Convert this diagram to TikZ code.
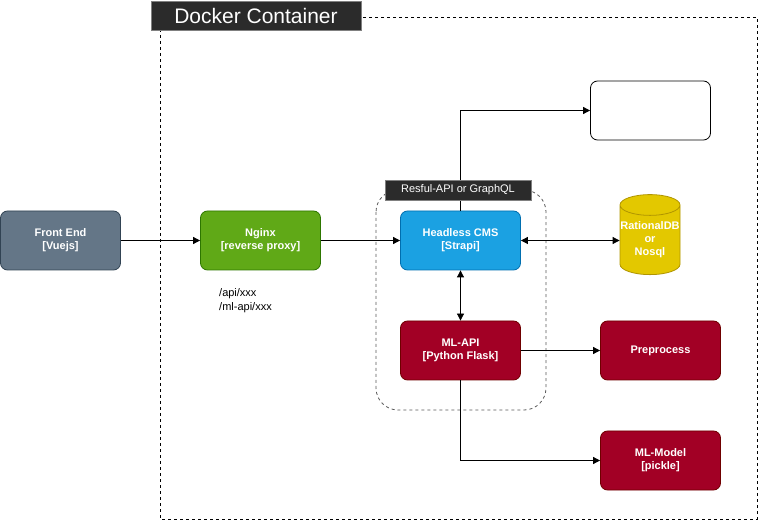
\documentclass[tikz,border=0pt]{standalone}
\usepackage{fontspec}
\setmainfont{Liberation Sans}
\usetikzlibrary{shapes.geometric,arrows.meta}
\begin{document}
\begin{tikzpicture}[x=1pt,y=-1pt,
  box/.style={draw,rounded corners=7pt,line width=0.8pt,minimum width=120pt,minimum height=59pt,text=white,font=\fontsize{11}{13}\selectfont\bfseries,align=center,inner sep=0pt},
  lbl/.style={draw=gray,fill=black!83,text=white,inner sep=0pt,align=center},
  arr/.style={-{Triangle[length=7pt,width=7pt]},line width=0.8pt},
  barr/.style={{Triangle[length=7pt,width=7pt]}-{Triangle[length=7pt,width=7pt]},line width=0.8pt}]
\useasboundingbox (0,0) rectangle (761,521);
\draw[dashed,line width=0.7pt] (160,17) rectangle (757,519);
\node[lbl,minimum width=210pt,minimum height=29pt,font=\fontsize{21}{23}\selectfont] (title) at (256,15.5) {Docker Container};
\draw[dashed,gray!70!black,line width=0.8pt,rounded corners=22pt] (376,190) rectangle (546,410);
\node[box,fill={rgb,255:red,100;green,118;blue,135},draw={rgb,255:red,49;green,67;blue,83}] (fe) at (60.5,240.5) {Front End\\{[Vuejs]}};
\node[box,fill={rgb,255:red,96;green,169;blue,23},draw={rgb,255:red,45;green,118;blue,0}] (ng) at (260.5,240.5) {Nginx\\{[reverse proxy]}};
\node[box,fill={rgb,255:red,27;green,161;blue,226},draw={rgb,255:red,0;green,110;blue,175}] (cms) at (460.5,240.5) {Headless CMS\\{[Strapi]}};
\node[box,fill={rgb,255:red,162;green,0;blue,37},draw={rgb,255:red,111;green,0;blue,0}] (ml) at (460.5,350.5) {ML-API\\{[Python Flask]}};
\node[box,fill={rgb,255:red,162;green,0;blue,37},draw={rgb,255:red,111;green,0;blue,0}] (pre) at (660.5,350.5) {Preprocess};
\node[box,fill={rgb,255:red,162;green,0;blue,37},draw={rgb,255:red,111;green,0;blue,0}] (mod) at (660.5,460.5) {ML-Model\\{[pickle]}};
\node[box,draw=black,fill=white] (empty) at (650.5,110.5) {};
\node[cylinder,shape border rotate=90,aspect=0.35,draw={rgb,255:red,176;green,149;blue,0},fill={rgb,255:red,227;green,200;blue,0},line width=0.8pt,minimum width=60pt,minimum height=80pt,inner sep=0pt,text=white,align=center,font=\fontsize{11}{13}\selectfont\bfseries] (db) at (650,240) {RationalDB\\or\\Nosql};
\node[align=left,anchor=north west,inner sep=0pt,font=\fontsize{11}{14}\selectfont] (paths) at (219,288) {/api/xxx\\/ml-api/xxx};
\draw[arr] (fe) -- (ng);
\draw[arr] (ng) -- (cms);
\draw[arr] (cms.north) |- (empty.west);
\draw[barr] (cms) -- (db.west|-cms);
\draw[barr] (cms) -- (ml);
\draw[arr] (ml) -- (pre);
\draw[arr] (ml.south) |- (mod.west);
\node[lbl,minimum width=146pt,minimum height=20pt,font=\fontsize{11}{13}\selectfont] (grp) at (458,190) {Resful-API or GraphQL};
\end{tikzpicture}
\end{document}
